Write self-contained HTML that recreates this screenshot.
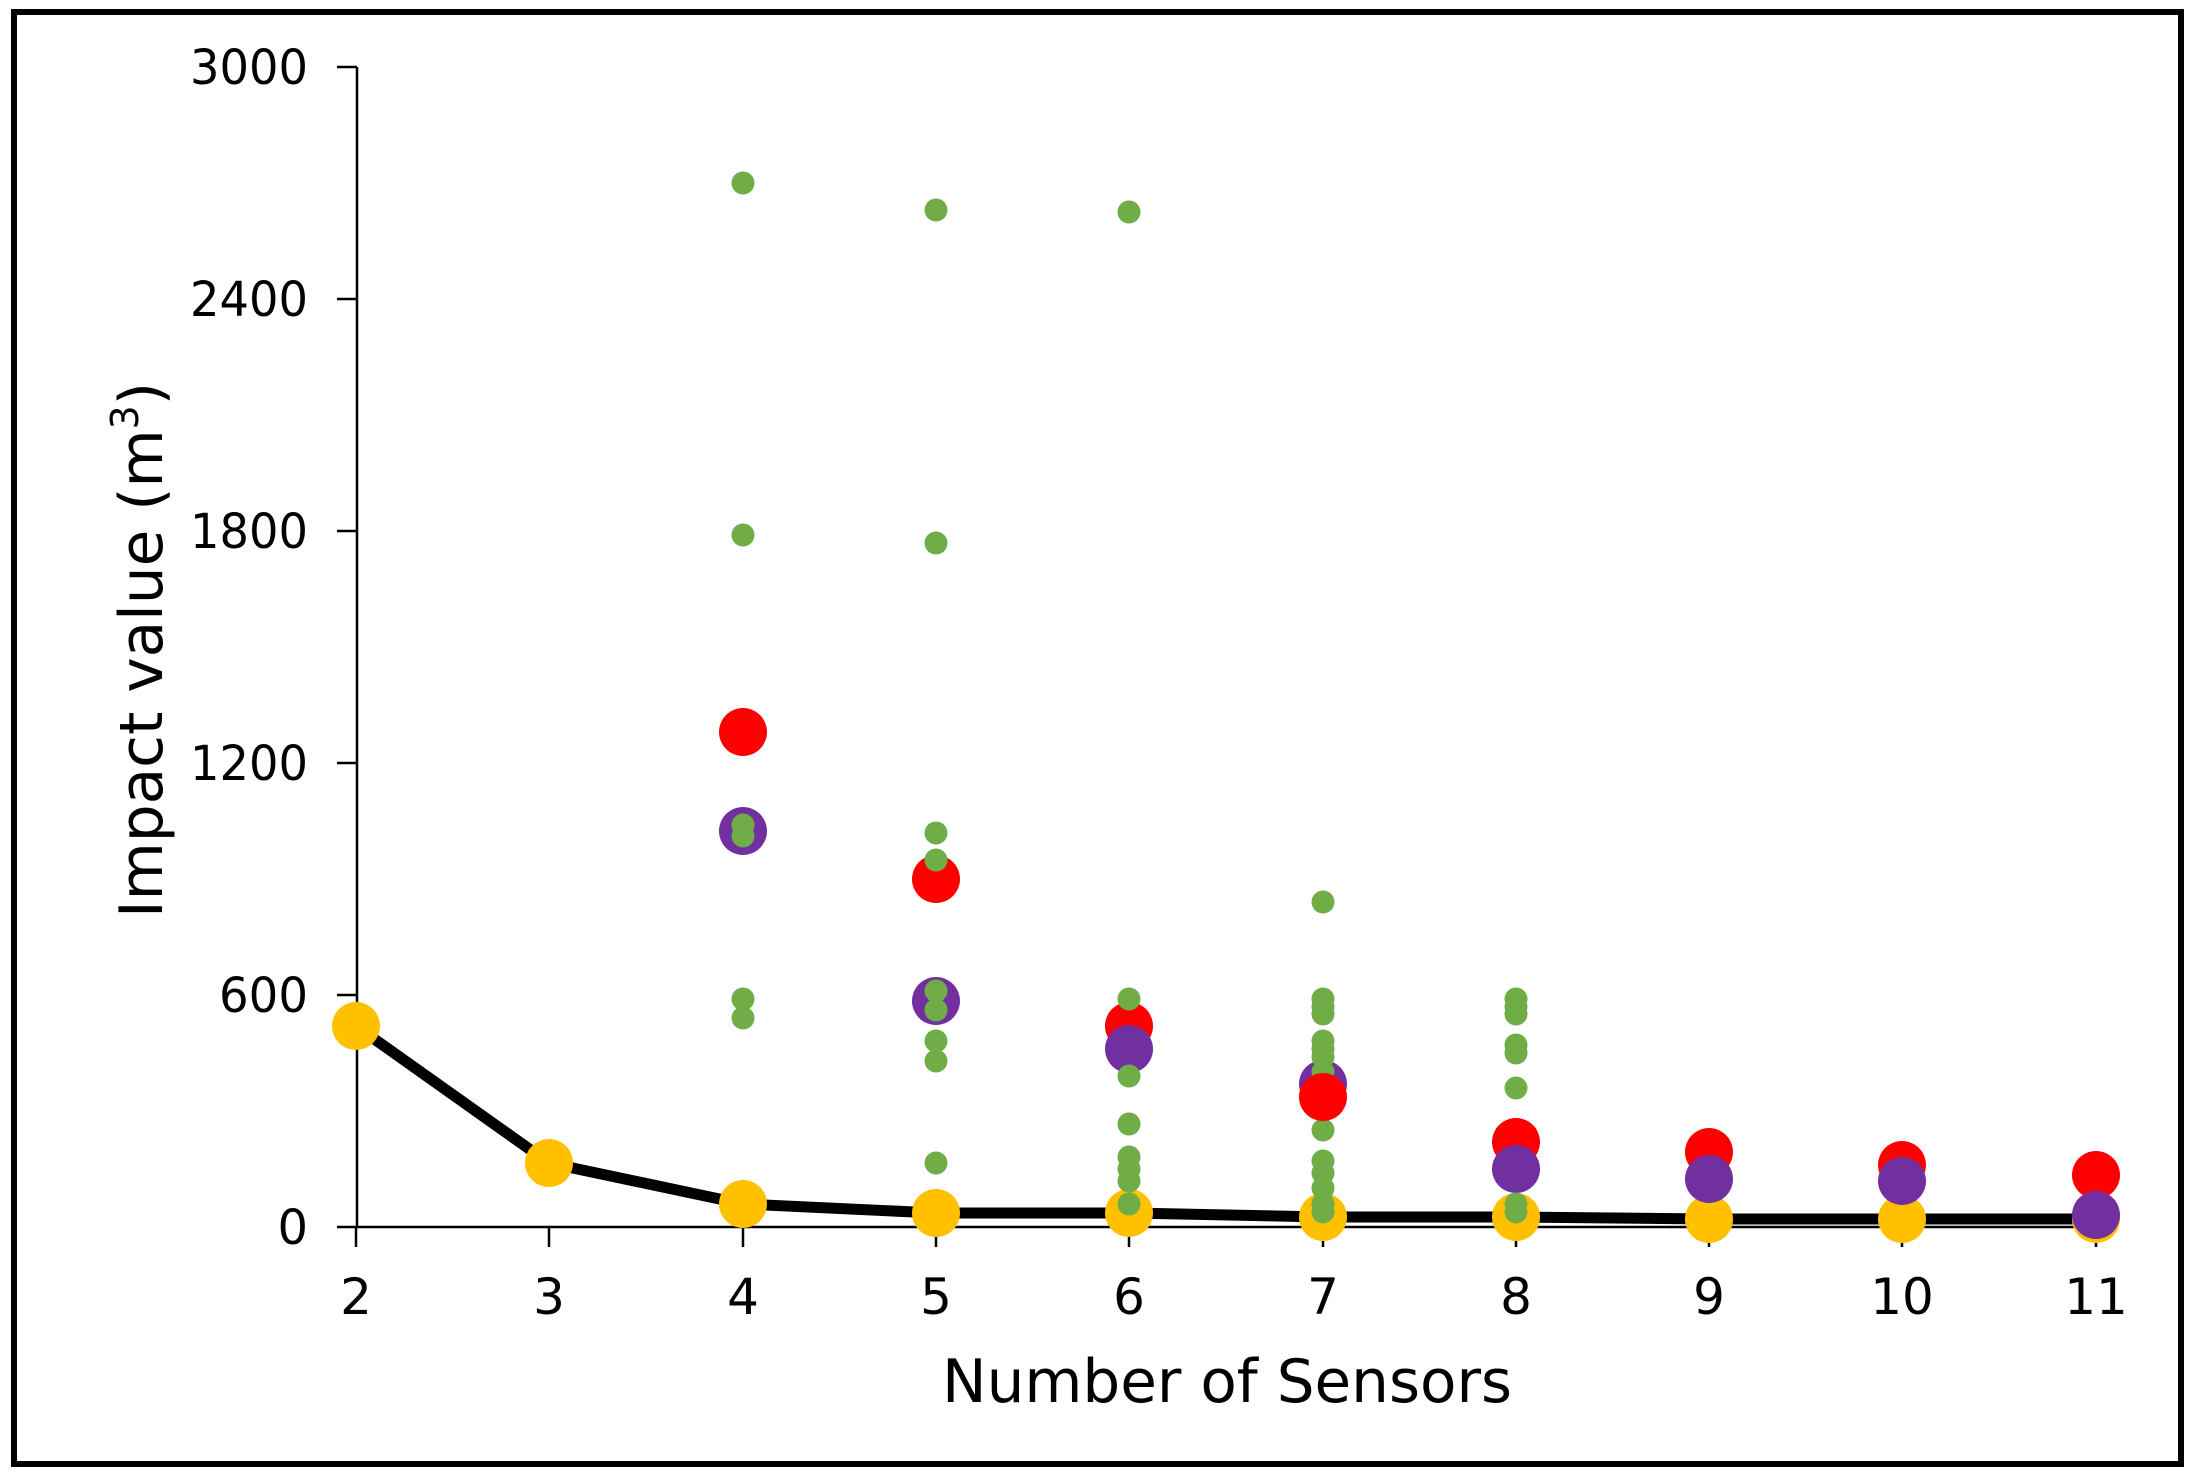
<!DOCTYPE html>
<html><head><meta charset="utf-8"><style>html,body{margin:0;padding:0;background:#fff}svg{display:block}</style></head>
<body>
<svg width="2196" height="1477" viewBox="0 0 2196 1477" xmlns="http://www.w3.org/2000/svg" font-family="DejaVu Sans, Liberation Sans, sans-serif">
<rect x="0" y="0" width="2196" height="1477" fill="#fff"/>
<rect x="14" y="12" width="2167" height="1452" fill="none" stroke="#000" stroke-width="6"/>
<g stroke="#000" stroke-width="2.5">
<line x1="357" y1="67" x2="357" y2="1227"/>
<line x1="337" y1="1227" x2="2096" y2="1227"/>
<line x1="337" y1="67" x2="357" y2="67"/>
<line x1="337" y1="299" x2="357" y2="299"/>
<line x1="337" y1="531" x2="357" y2="531"/>
<line x1="337" y1="763" x2="357" y2="763"/>
<line x1="337" y1="995" x2="357" y2="995"/>
<line x1="356" y1="1227" x2="356" y2="1247"/>
<line x1="549" y1="1227" x2="549" y2="1247"/>
<line x1="743" y1="1227" x2="743" y2="1247"/>
<line x1="936" y1="1227" x2="936" y2="1247"/>
<line x1="1129" y1="1227" x2="1129" y2="1247"/>
<line x1="1323" y1="1227" x2="1323" y2="1247"/>
<line x1="1516" y1="1227" x2="1516" y2="1247"/>
<line x1="1709" y1="1227" x2="1709" y2="1247"/>
<line x1="1902" y1="1227" x2="1902" y2="1247"/>
<line x1="2096" y1="1227" x2="2096" y2="1247"/>
</g>
<g font-size="48" text-anchor="end" fill="#000">
<text x="308" y="84" textLength="118" lengthAdjust="spacingAndGlyphs">3000</text>
<text x="308" y="316" textLength="118" lengthAdjust="spacingAndGlyphs">2400</text>
<text x="308" y="548" textLength="118" lengthAdjust="spacingAndGlyphs">1800</text>
<text x="308" y="780" textLength="118" lengthAdjust="spacingAndGlyphs">1200</text>
<text x="308" y="1012" textLength="89" lengthAdjust="spacingAndGlyphs">600</text>
<text x="308" y="1244">0</text>
</g>
<g font-size="50" text-anchor="middle" fill="#000">
<text x="356" y="1314">2</text><text x="549" y="1314">3</text><text x="743" y="1314">4</text>
<text x="936" y="1314">5</text><text x="1129" y="1314">6</text><text x="1323" y="1314">7</text>
<text x="1516" y="1314">8</text><text x="1709" y="1314">9</text><text x="1902" y="1314">10</text>
<text x="2096" y="1314">11</text>
</g>
<text x="1227" y="1402" font-size="60" text-anchor="middle" textLength="570" lengthAdjust="spacingAndGlyphs">Number of Sensors</text>
<text transform="translate(162,650) rotate(-90)" font-size="60" text-anchor="middle" textLength="536" lengthAdjust="spacingAndGlyphs">Impact value (m<tspan font-size="38" dy="-24">3</tspan><tspan dy="24">)</tspan></text>
<polyline fill="none" stroke="#000" stroke-width="11" stroke-linejoin="round" points="356,1026 549,1163 743,1204 936,1213 1129,1213 1323,1217 1516,1217 1709,1219 1902,1219 2096,1219"/>
<g fill="#FFC000">
<circle cx="356" cy="1026" r="24"/><circle cx="549" cy="1163" r="24"/><circle cx="743" cy="1204" r="24"/>
<circle cx="936" cy="1213" r="24"/><circle cx="1129" cy="1213" r="24"/><circle cx="1323" cy="1217" r="24"/>
<circle cx="1516" cy="1217" r="24"/><circle cx="1709" cy="1219" r="24"/><circle cx="1902" cy="1219" r="24"/>
<circle cx="2096" cy="1219" r="24"/>
</g>
<g fill="#7030A0">
<circle cx="743" cy="831" r="24"/><circle cx="1323" cy="1084" r="24"/>
</g>
<g fill="#FF0000">
<circle cx="743" cy="732" r="24"/><circle cx="936" cy="879" r="24"/><circle cx="1129" cy="1026" r="24"/>
<circle cx="1516" cy="1142" r="24"/><circle cx="1709" cy="1152" r="24"/><circle cx="1902" cy="1165" r="24"/>
<circle cx="2096" cy="1175" r="24"/>
</g>
<g fill="#7030A0">
<circle cx="936" cy="1001" r="24"/><circle cx="1129" cy="1049" r="24"/>
<circle cx="1516" cy="1169" r="24"/><circle cx="1709" cy="1179" r="24"/><circle cx="1902" cy="1181" r="24"/>
<circle cx="2096" cy="1215" r="24"/>
</g>
<g fill="#70AD47">
<circle cx="743" cy="183" r="11.5"/><circle cx="743" cy="535" r="11.5"/><circle cx="743" cy="825" r="11.5"/><circle cx="743" cy="836" r="11.5"/><circle cx="743" cy="999" r="11.5"/><circle cx="743" cy="1018" r="11.5"/>
<circle cx="936" cy="210" r="11.5"/><circle cx="936" cy="543" r="11.5"/><circle cx="936" cy="833" r="11.5"/><circle cx="936" cy="860" r="11.5"/><circle cx="936" cy="991" r="11.5"/><circle cx="936" cy="1010" r="11.5"/><circle cx="936" cy="1041" r="11.5"/><circle cx="936" cy="1061" r="11.5"/><circle cx="936" cy="1163" r="11.5"/>
<circle cx="1129" cy="212" r="11.5"/><circle cx="1129" cy="999" r="11.5"/><circle cx="1129" cy="1076" r="11.5"/><circle cx="1129" cy="1124" r="11.5"/><circle cx="1129" cy="1157" r="11.5"/><circle cx="1129" cy="1169" r="11.5"/><circle cx="1129" cy="1181" r="11.5"/><circle cx="1129" cy="1204" r="11.5"/>
<circle cx="1323" cy="902" r="11.5"/><circle cx="1323" cy="999" r="11.5"/><circle cx="1323" cy="1007" r="11.5"/><circle cx="1323" cy="1014" r="11.5"/><circle cx="1323" cy="1041" r="11.5"/><circle cx="1323" cy="1049" r="11.5"/><circle cx="1323" cy="1057" r="11.5"/><circle cx="1323" cy="1072" r="11.5"/><circle cx="1323" cy="1130" r="11.5"/><circle cx="1323" cy="1161" r="11.5"/><circle cx="1323" cy="1173" r="11.5"/><circle cx="1323" cy="1188" r="11.5"/><circle cx="1323" cy="1204" r="11.5"/><circle cx="1323" cy="1212" r="11.5"/>
<circle cx="1516" cy="999" r="11.5"/><circle cx="1516" cy="1007" r="11.5"/><circle cx="1516" cy="1014" r="11.5"/><circle cx="1516" cy="1045" r="11.5"/><circle cx="1516" cy="1053" r="11.5"/><circle cx="1516" cy="1088" r="11.5"/><circle cx="1516" cy="1204" r="11.5"/><circle cx="1516" cy="1212" r="11.5"/>
</g>
<circle cx="1323" cy="1097" r="24" fill="#FF0000"/>
<circle cx="1323" cy="1204" r="11.5" fill="#70AD47"/>
</svg>
</body></html>
